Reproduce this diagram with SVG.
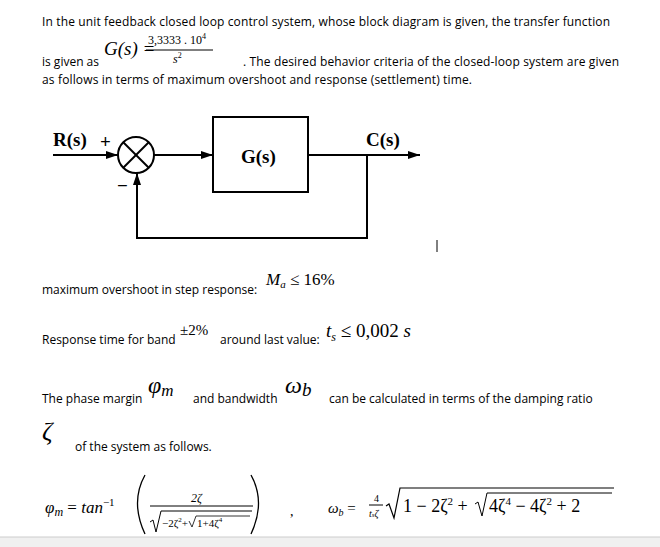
<svg xmlns="http://www.w3.org/2000/svg" width="660" height="547" viewBox="0 0 660 547">
<defs>
<marker id="ar" markerWidth="12" markerHeight="8" refX="12" refY="4" orient="auto" markerUnits="userSpaceOnUse"><path d="M0,0 L12,4 L0,8 Z" fill="#000"/></marker>
<style>
.t{font-family:"Open Sans","Liberation Sans",sans-serif;font-size:12px;fill:#000}
.m{font-family:"Liberation Serif",serif;font-style:italic;fill:#000}
.mr{font-family:"Liberation Serif",serif;fill:#000}
.ln{stroke:#000;stroke-width:2;fill:none}
.lb{font-family:"Liberation Serif",serif;font-size:19px;fill:#000;font-weight:bold}
</style>
</defs>
<rect width="660" height="547" fill="#fff"/>
<rect x="0" y="537" width="660" height="10" fill="#f0f0f0"/>
<line x1="0" y1="537" x2="660" y2="537" stroke="#ccc"/>
<g id="intro">
<text class="t" x="42" y="26" textLength="568">In the unit feedback closed loop control system, whose block diagram is given, the transfer function</text>
<text class="m" x="104" y="55" font-size="19">G(s) =</text>
<text class="mr" x="148" y="44" font-size="12">3,3333 . 10<tspan font-size="8" dy="-5">4</tspan></text>
<line x1="146" y1="50" x2="213" y2="50" stroke="#000"/>
<text class="m" x="173" y="63" font-size="12">s<tspan font-size="8" dy="-5" font-style="normal">2</tspan></text>
<text class="t" x="42" y="66">is given as</text>
<text class="t" x="243" y="66" textLength="376">. The desired behavior criteria of the closed-loop system are given</text>
<text class="t" x="42" y="84" textLength="430">as follows in terms of maximum overshoot and response (settlement) time.</text>
</g>
<g id="connectors">
<line class="ln" x1="53" y1="155" x2="118" y2="155" marker-end="url(#ar)"/>
<line class="ln" x1="154" y1="155" x2="213" y2="155" marker-end="url(#ar)"/>
<line class="ln" x1="308" y1="155" x2="420" y2="155" marker-end="url(#ar)"/>
<polyline class="ln" points="367,155 367,238 137,238 137,173" marker-end="url(#ar)"/>
</g>
<g id="sum">
<circle class="ln" cx="136" cy="155" r="18"/>
<line class="ln" x1="123" y1="142" x2="149" y2="168"/>
<line class="ln" x1="149" y1="142" x2="123" y2="168"/>
<text class="lb" x="100" y="148" font-size="17">+</text>
<text class="lb" x="117" y="192" font-size="17">−</text>
</g>
<g id="G">
<rect class="ln" x="213" y="117" width="95" height="75"/>
<text class="lb" x="241" y="163">G(s)</text>
</g>
<text class="lb" x="53" y="146">R(s)</text>
<text class="lb" x="366" y="146">C(s)</text>
<line x1="437" y1="240" x2="437" y2="252" stroke="#000"/>
<g id="specs">
<text class="t" x="42" y="294">maximum overshoot in step response:</text>
<text class="m" x="266" y="285" font-size="17">M<tspan font-size="11" dy="3">a</tspan><tspan class="mr" dy="-3" font-style="normal"> ≤ 16%</tspan></text>
<text class="t" x="42" y="344">Response time for band</text>
<text class="mr" x="180" y="335" font-size="15">±2%</text>
<text class="t" x="220" y="344">around last value:</text>
<text class="m" x="326" y="337" font-size="19">t<tspan font-size="12" dy="4">s</tspan><tspan class="mr" font-style="normal" dy="-4"> ≤ 0,002 </tspan>s</text>
<text class="t" x="42" y="403">The phase margin</text>
<text class="m" x="148" y="393" font-size="24">φ<tspan font-size="17" dy="3">m</tspan></text>
<text class="t" x="193" y="403">and bandwidth</text>
<text class="m" x="285" y="393" font-size="24">ω<tspan font-size="19" dy="3">b</tspan></text>
<text class="t" x="329" y="403">can be calculated in terms of the damping ratio</text>
<text class="m" x="42" y="440" font-size="26">ζ</text>
<text class="t" x="75" y="451">of the system as follows.</text>
</g>
<g id="formulas">
<text class="m" x="45" y="513" font-size="17">φ<tspan font-size="12" dy="3">m</tspan><tspan dy="-3" font-style="normal"> = </tspan>tan<tspan font-size="11" dy="-7" font-style="normal">−1</tspan></text>
<path d="M145,475 Q130,502 145,534" stroke="#000" stroke-width="1.3" fill="none"/>
<path d="M251,475 Q266,502 251,534" stroke="#000" stroke-width="1.3" fill="none"/>
<text class="m" x="191" y="502" font-size="12">2ζ</text>
<line x1="150" y1="506" x2="253" y2="506" stroke="#000"/>
<path d="M150,522 L153,520 L156,532 L161,511 L252,511" stroke="#000" fill="none"/>
<text class="mr" x="162" y="527" font-size="11">−2ζ<tspan font-size="7" dy="-5">2</tspan><tspan dy="5">+</tspan></text>
<path d="M189,521 L192,527 L196,516 L250,516" stroke="#000" fill="none" stroke-width="0.8"/>
<text class="mr" x="197" y="527" font-size="11">1+4ζ<tspan font-size="7" dy="-5">4</tspan></text>
<text class="mr" x="290" y="516" font-size="14">,</text>
<text class="m" x="328" y="513" font-size="15">ω<tspan font-size="10" dy="3">b</tspan><tspan dy="-3" font-style="normal"> =</tspan></text>
<text class="mr" x="374" y="502" font-size="10">4</text>
<line x1="369" y1="505" x2="383" y2="505" stroke="#000"/>
<text class="m" x="369" y="517" font-size="10">t<tspan font-size="7">s</tspan>ζ</text>
<path d="M386,506 L389,504 L394,518 L400,488 L614,488" stroke="#000" fill="none" stroke-width="1.2"/>
<text class="mr" x="403" y="512" font-size="18">1 − 2ζ<tspan font-size="11" dy="-7">2</tspan><tspan dy="7"> +</tspan></text>
<path d="M475,504 L478,502 L482,516 L487,493 L612,493" stroke="#000" fill="none" stroke-width="1"/>
<text class="mr" x="489" y="512" font-size="18">4ζ<tspan font-size="11" dy="-7">4</tspan><tspan dy="7"> − 4ζ</tspan><tspan font-size="11" dy="-7">2</tspan><tspan dy="7"> + 2</tspan></text>
</g>
</svg>
